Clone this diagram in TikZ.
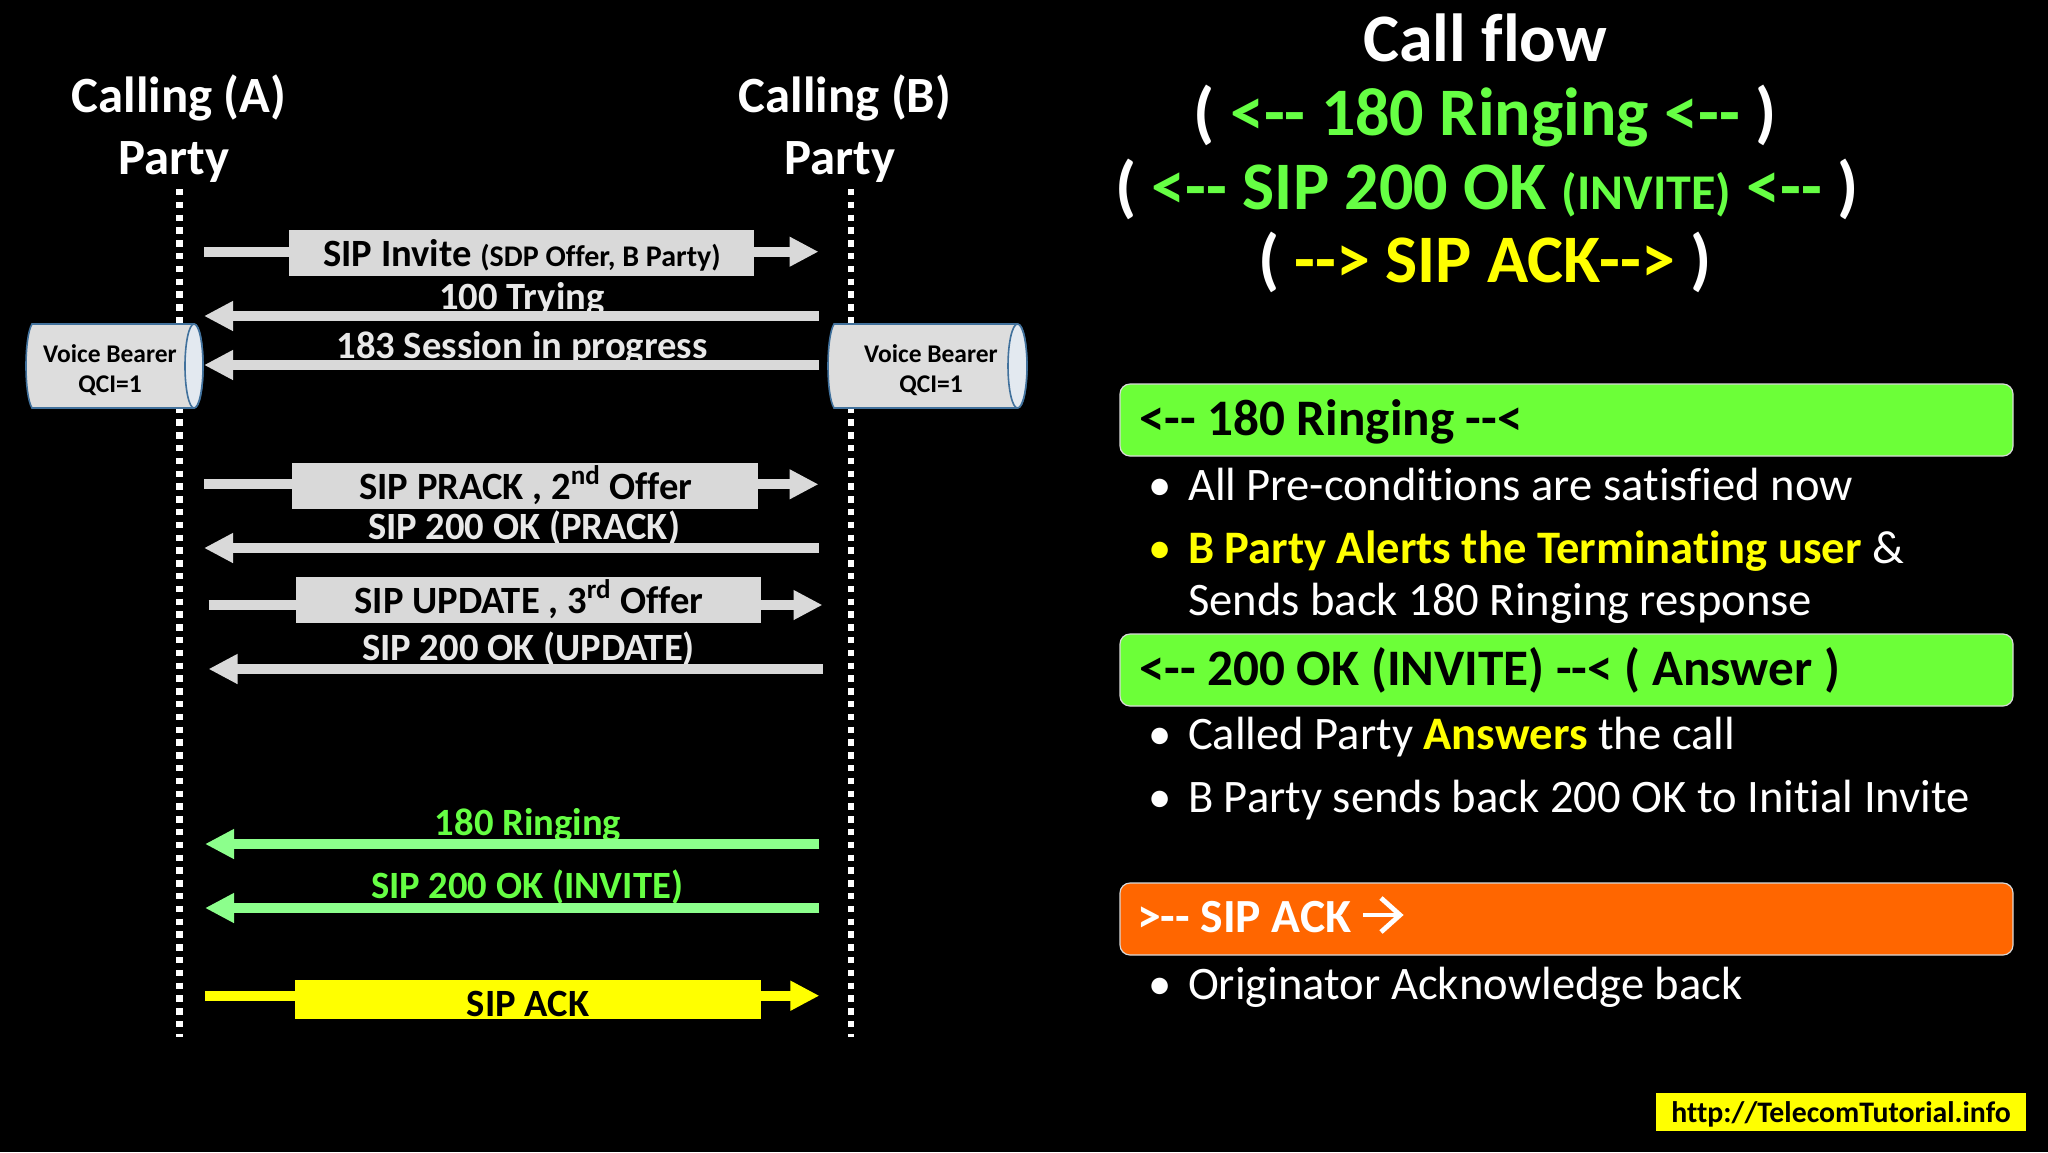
\documentclass[tikz,border=0pt]{standalone}
\usepackage{fontspec}
\setmainfont{Carlito}[Ligatures=NoCommon]
\usetikzlibrary{arrows.meta}
\definecolor{lgrey}{HTML}{D9D9D9}
\definecolor{tgrey}{HTML}{E8E8E8}
\definecolor{lgreen}{HTML}{8CFF8C}
\definecolor{tgreen}{HTML}{66FF44}
\definecolor{bgreen}{HTML}{6CFF38}
\definecolor{syel}{HTML}{FFFF00}
\definecolor{sorange}{HTML}{FF6600}
\definecolor{cylblue}{HTML}{41719C}
\definecolor{cylend}{HTML}{E3E9F0}
\newcommand{\dd}{-{}-}
\newcommand{\fs}[1]{\fontsize{#1}{#1}\selectfont}
\tikzset{
  x=0.5pt,y=-0.5pt,
  every node/.style={inner sep=0pt,outer sep=0pt},
  lbl/.style={anchor=base,font=\bfseries\fs{19.3pt}},
  lifeline/.style={draw=white,line width=3.25pt,dash pattern=on 3.2pt off 3.2pt},
  fat/.style={line width=5pt,-{Triangle[length=14.5pt,width=14pt]}},
  msgbox/.style={rectangle,anchor=center,fill=lgrey},
  cylbody/.style={draw=cylblue,line width=0.8pt,fill=lgrey!90!white},
  cylcap/.style={draw=cylblue,line width=0.8pt,fill=cylend},
  cyltxt/.style={anchor=base,font=\bfseries\fs{12.75pt},text=black},
  head/.style={anchor=base,font=\bfseries\fs{25.4pt},text=white},
  title/.style={anchor=base,font=\bfseries\fs{34pt}},
  band/.style={rectangle,rounded corners=5pt,draw=white!85!black,line width=0.6pt,anchor=center,minimum height=36pt,minimum width=446.5pt},
  bandtxt/.style={anchor=base west,font=\bfseries\fs{25.6pt},text=black},
  bodytxt/.style={anchor=base west,font=\fs{23.3pt},text=white},
  bul/.style={anchor=base,font=\fs{23.3pt},text=white},
  openarrow/.style={draw=white,line width=2.4pt,line join=miter},
}
\begin{document}
\begin{tikzpicture}
\useasboundingbox[fill=black] (0,0) rectangle (2048,1152);
% headers
\node[head] (ha1) at (179,112.5) {Calling (A)};
\node[head] (ha2) at (174,174) {Party};
\node[head] (hb1) at (845,112.5) {Calling (B)};
\node[head] (hb2) at (840,174) {Party};
% lifelines
\coordinate (atop) at (179.5,189); \coordinate (abot) at (179.5,1037);
\coordinate (btop) at (851,189); \coordinate (bbot) at (851,1037);
\draw[lifeline] (atop) -- (abot);
\draw[lifeline] (btop) -- (bbot);
% cylinders
\draw[cylbody] (32,324) -- (194,324) .. controls (206,324) and (206,408) .. (194,408) -- (32,408) .. controls (24,395) and (24,337) .. (32,324) -- cycle;
\draw[cylcap] (194,366) ellipse [x radius=9,y radius=42];
\draw[cylbody] (834,324) -- (1017.5,324) .. controls (1030,324) and (1030,408) .. (1017.5,408) -- (834,408) .. controls (826,395) and (826,337) .. (834,324) -- cycle;
\draw[cylcap] (1017.5,366) ellipse [x radius=9.5,y radius=42];
\node[cyltxt] (c1a) at (110,362) {Voice Bearer};
\node[cyltxt] (c1b) at (110,392.5) {QCI=1};
\node[cyltxt] (c2a) at (931,362) {Voice Bearer};
\node[cyltxt] (c2b) at (931,392.5) {QCI=1};
% coordinates of arrows
\foreach \n/\xa/\xb/\y in {m1/204/818.5/251.7,m2/204/818.5/316,m3/204/818.5/365,m4/204/818.5/484.3,m5/204/818.5/548,m6/208.5/822.5/605,m7/208.5/822.5/669,m8/205/819.4/844,m9/205/819.4/908,m10/205/819.4/995.7}{
  \coordinate (\n l) at (\xa,\y); \coordinate (\n r) at (\xb,\y);
}
% 1
\draw[fat,lgrey] (m1l) -- (m1r);
\node[msgbox,minimum width=232.5pt,minimum height=23pt] (b1) at (521.5,253) {};
\node[anchor=base,font=\bfseries\fs{19.3pt}] (t1) at (522,266) {SIP Invite {\fs{15pt}(SDP Offer, B Party)}};
% 2
\node[lbl,text=tgrey] (t2) at (522,309.5) {100 Trying};
\draw[fat,lgrey] (m2r) -- (m2l);
% 3
\node[lbl,text=tgrey] (t3) at (522,358) {183 Session in progress};
\draw[fat,lgrey] (m3r) -- (m3l);
% 4
\draw[fat,lgrey] (m4l) -- (m4r);
\node[msgbox,minimum width=233pt,minimum height=23.3pt] (b4) at (525,486) {};
\node[lbl] (t4) at (526,499.5) {SIP PRACK , 2\textsuperscript{nd} Offer};
% 5
\node[lbl,text=tgrey] (t5) at (524,539.5) {SIP 200 OK (PRACK)};
\draw[fat,lgrey] (m5r) -- (m5l);
% 6
\draw[fat,lgrey] (m6l) -- (m6r);
\node[msgbox,minimum width=232.7pt,minimum height=23pt] (b6) at (528.7,600) {};
\node[lbl] (t6) at (529,613.5) {SIP UPDATE , 3\textsuperscript{rd} Offer};
% 7
\node[lbl,text=tgrey] (t7) at (528.5,660.5) {SIP 200 OK (UPDATE)};
\draw[fat,lgrey] (m7r) -- (m7l);
% 8
\node[lbl,text=tgreen] (t8) at (528,835.5) {180 Ringing};
\draw[fat,lgreen] (m8r) -- (m8l);
% 9
\node[lbl,text=tgreen] (t9) at (527,898.5) {SIP 200 OK (INVITE)};
\draw[fat,lgreen] (m9r) -- (m9l);
% 10
\draw[fat,syel] (m10l) -- (m10r);
\node[msgbox,fill=syel,minimum width=233pt,minimum height=19.5pt] (b10) at (527.5,999.5) {};
\node[lbl] (t10) at (528,1016) {SIP ACK};
% Title
\node[title,text=white] (T1) at (1485,61.5) {Call flow};
\node[title,text=white] (T2) at (1485,135.5) {( \textcolor{tgreen}{<\dd{} 180 Ringing <\dd{}} )};
\node[title,text=white] (T3) at (1487,209.5) {( \textcolor{tgreen}{<\dd{} SIP 200 OK {\fs{25pt}(INVITE)} <\dd{}} )};
\node[title,text=white] (T4) at (1485,282.5) {( \textcolor{syel}{\dd{}> SIP ACK\dd{}>} )};
% Bands
\node[band,fill=bgreen] (B1) at (1566.5,420) {};
\node[bandtxt] (B1t) at (1139,435.5) {<\dd{} 180 Ringing \dd{}<};
\node[bul] (p1) at (1160,500.5) {•};
\node[bodytxt] (x1) at (1188,500.5) {All Pre-conditions are satisfied now};
\node[bul,text=syel] (p2) at (1160,563.5) {•};
\node[bodytxt] (x2) at (1188,563.5) {\textcolor{syel}{\bfseries B Party Alerts the Terminating user} \&};
\node[bodytxt] (x3) at (1188,615.5) {Sends back 180 Ringing response};
\node[band,fill=bgreen] (B2) at (1566.5,670) {};
\node[bandtxt] (B2t) at (1139,685) {<\dd{} 200 OK (INVITE) \dd{}< ( Answer )};
\node[bul] (p3) at (1160,749.5) {•};
\node[bodytxt] (x4) at (1188,749.5) {Called Party \textcolor{syel}{\bfseries Answers} the call};
\node[bul] (p4) at (1160,812) {•};
\node[bodytxt] (x5) at (1188,812) {B Party sends back 200 OK to Initial Invite};
\node[band,fill=sorange] (B3) at (1566.5,919) {};
\node[bandtxt,text=white,font=\bfseries\fs{23.8pt}] (B3t) at (1137,932) {>\dd{} SIP ACK};
\draw[openarrow] (1363,915) -- (1400,915);
\draw[openarrow] (1381,898) -- (1400,915) -- (1381,932);
\node[bul] (p5) at (1160,999) {•};
\node[bodytxt] (x6) at (1188,999) {Originator Acknowledge back};
% URL
\node[rectangle,fill=syel,anchor=center,minimum width=185pt,minimum height=19pt] (U) at (1841,1112) {};
\node[anchor=center,font=\bfseries\fs{14.9pt},text=black] (Ut) at (1841,1114.5) {http://TelecomTutorial.info};
\end{tikzpicture}
\end{document}
